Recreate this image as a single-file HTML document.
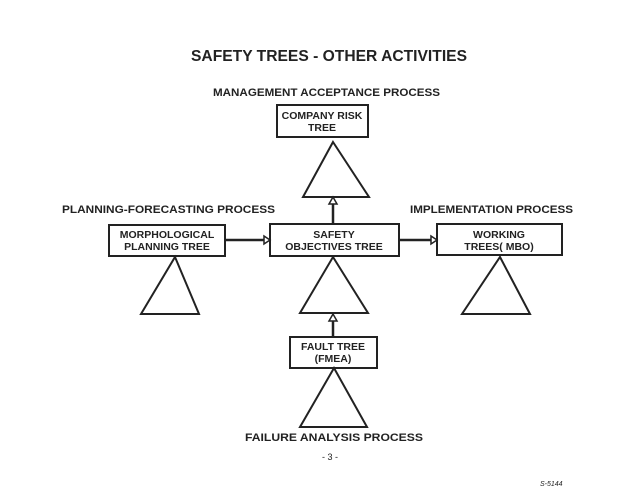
<!DOCTYPE html>
<html><head><style>body{margin:0;background:#fff}svg{display:block}</style></head><body>
<svg width="638" height="503" viewBox="0 0 638 503" xmlns="http://www.w3.org/2000/svg" font-family="Liberation Sans, sans-serif" font-weight="bold" fill="#222">
<rect width="638" height="503" fill="#fff"/>
<g font-size="16"><text x="191" y="61" textLength="276" lengthAdjust="spacingAndGlyphs">SAFETY TREES - OTHER ACTIVITIES</text></g>
<g font-size="11">
<text x="213" y="96" textLength="227" lengthAdjust="spacingAndGlyphs">MANAGEMENT ACCEPTANCE PROCESS</text>
<text x="62" y="213" textLength="213" lengthAdjust="spacingAndGlyphs">PLANNING-FORECASTING PROCESS</text>
<text x="410" y="213" textLength="163" lengthAdjust="spacingAndGlyphs">IMPLEMENTATION PROCESS</text>
<text x="245" y="441" textLength="178" lengthAdjust="spacingAndGlyphs">FAILURE ANALYSIS PROCESS</text>
<text x="322" y="460" font-size="9" font-weight="normal">- 3 -</text>
<text x="540" y="486" font-size="7" font-weight="normal" font-style="italic">S-5144</text>
</g>
<g fill="none" stroke="#222" stroke-width="2">
<rect x="277" y="105" width="91" height="32"/>
<rect x="270" y="224" width="129" height="32"/>
<rect x="109" y="225" width="116" height="31"/>
<rect x="437" y="224" width="125" height="31"/>
<rect x="290" y="337" width="87" height="31"/>
<path d="M333 142 L369 197 L303 197 Z"/>
<path d="M175 257 L199 314 L141 314 Z"/>
<path d="M333 257 L368 313 L300 313 Z"/>
<path d="M500 257 L530 314 L462 314 Z"/>
<path d="M334 368 L367 427 L300 427 Z"/>
<path d="M333 224 V200 M225 240 H265 M399 240 H432 M333 337 V319" stroke-width="2.5"/>
</g>
<g fill="#fff" stroke="#222" stroke-width="1.5">
<path d="M329 204 L333 197 L337 204 Z"/>
<path d="M264 236 L270 240 L264 244 Z"/>
<path d="M431 236 L437 240 L431 244 Z"/>
<path d="M329 321 L333 314 L337 321 Z"/>
</g>
<g font-size="10.5" text-anchor="middle">
<text x="322" y="119">COMPANY RISK</text><text x="322" y="131">TREE</text>
<text x="334" y="238">SAFETY</text><text x="334" y="250">OBJECTIVES TREE</text>
<text x="167" y="238">MORPHOLOGICAL</text><text x="167" y="250">PLANNING TREE</text>
<text x="499" y="238">WORKING</text><text x="499" y="250">TREES( MBO)</text>
<text x="333" y="350">FAULT TREE</text><text x="333" y="362">(FMEA)</text>
</g>
</svg>
</body></html>
